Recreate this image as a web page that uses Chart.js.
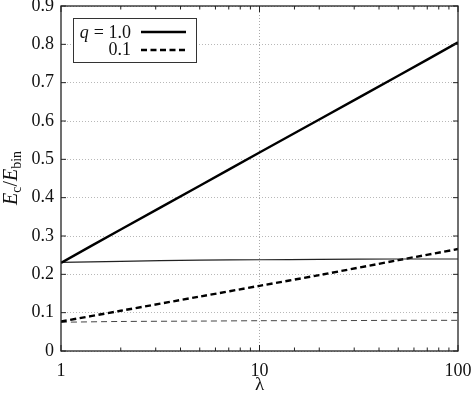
<!DOCTYPE html>
<html>
<head>
<meta charset="utf-8">
<script src="https://cdn.jsdelivr.net/npm/chart.js@4/dist/chart.umd.min.js"></script>
<style>
  html, body { margin: 0; padding: 0; background: #fff; }
  #wrap { width: 474px; height: 402px; }
</style>
</head>
<body>
<div id="wrap"><canvas id="chart" width="474" height="402"></canvas></div>
<script>
// lambda values (log axis)
const lambdas = [1, 2, 5, 10, 20, 50, 100];

// q = 1.0
const q10Thick = [0.230, 0.317, 0.431, 0.518, 0.604, 0.718, 0.805];
const q10Thin  = [0.231, 0.234, 0.237, 0.238, 0.239, 0.240, 0.240];
// q = 0.1
const q01Thick = [0.077, 0.105, 0.142, 0.170, 0.198, 0.237, 0.266];
const q01Thin  = [0.075, 0.077, 0.078, 0.079, 0.079, 0.080, 0.080];

const xLabels = [1, 10, 100];
const legendLabels = ['1.0', '0.1'];

const FONT = '"Liberation Serif", serif';

const toPts = ys => lambdas.map((x, i) => ({ x: x, y: ys[i] }));

// frame, inward ticks, legend box and y title
const decor = {
    id: 'decor',
    afterDraw(chart) {
        const ctx = chart.ctx;
        const a = chart.chartArea;
        const xs = chart.scales.x, ys = chart.scales.y;
        ctx.save();
        ctx.strokeStyle = '#222';
        ctx.lineWidth = 1.3;
        ctx.strokeRect(a.left, a.top, a.right - a.left, a.bottom - a.top);

        // x ticks, bottom and top
        ctx.lineWidth = 1;
        xs.ticks.forEach(t => {
            const px = xs.getPixelForValue(t.value);
            const major = xLabels.includes(t.value);
            const len = major ? 6 : 3.5;
            ctx.beginPath();
            ctx.moveTo(px, a.bottom); ctx.lineTo(px, a.bottom - len);
            ctx.moveTo(px, a.top); ctx.lineTo(px, a.top + len);
            ctx.stroke();
        });
        // y ticks, left and right
        ys.ticks.forEach(t => {
            const py = ys.getPixelForValue(t.value);
            ctx.beginPath();
            ctx.moveTo(a.left, py); ctx.lineTo(a.left + 5, py);
            ctx.moveTo(a.right, py); ctx.lineTo(a.right - 5, py);
            ctx.stroke();
        });

        // legend
        ctx.fillStyle = '#fff';
        ctx.fillRect(73, 18, 123, 44);
        ctx.strokeStyle = '#333';
        ctx.lineWidth = 1;
        ctx.strokeRect(73.5, 18.5, 123, 44);
        ctx.fillStyle = '#111';
        ctx.textBaseline = 'middle';
        ctx.textAlign = 'right';
        ctx.font = '18px ' + FONT;
        const row1 = '= ' + legendLabels[0];
        ctx.fillText(row1, 131, 33);
        const w = ctx.measureText(row1).width;
        ctx.font = 'italic 18px ' + FONT;
        ctx.fillText('q', 131 - w - 5, 33);
        ctx.font = '18px ' + FONT;
        ctx.fillText(legendLabels[1], 131, 50);
        ctx.strokeStyle = '#000';
        ctx.lineWidth = 2.4;
        ctx.beginPath(); ctx.moveTo(141, 32); ctx.lineTo(186, 32); ctx.stroke();
        ctx.setLineDash([6, 3.5]);
        ctx.beginPath(); ctx.moveTo(141, 50); ctx.lineTo(186, 50); ctx.stroke();
        ctx.setLineDash([]);

        // y title E_c / E_bin
        ctx.translate(17, 178);
        ctx.rotate(-Math.PI / 2);
        ctx.textAlign = 'left';
        ctx.textBaseline = 'alphabetic';
        const parts = [
            ['italic 20px ', 'E', 0],
            ['14px ', 'c', 4],
            ['20px ', '/', 0],
            ['italic 20px ', 'E', 0],
            ['14px ', 'bin', 4]
        ];
        let total = 0;
        parts.forEach(p => { ctx.font = p[0] + FONT; total += ctx.measureText(p[1]).width; });
        let cx = -total / 2;
        parts.forEach(p => {
            ctx.font = p[0] + FONT;
            ctx.fillText(p[1], cx, p[2]);
            cx += ctx.measureText(p[1]).width;
        });
        ctx.restore();
    }
};

new Chart(document.getElementById('chart'), {
    type: 'line',
    data: {
        datasets: [
            { data: toPts(q10Thick), borderColor: '#000', borderWidth: 2.4 },
            { data: toPts(q10Thin), borderColor: '#222', borderWidth: 1.2 },
            { data: toPts(q01Thick), borderColor: '#000', borderWidth: 2.4, borderDash: [6, 3.5] },
            { data: toPts(q01Thin), borderColor: '#444', borderWidth: 1, borderDash: [6, 4] }
        ]
    },
    options: {
        responsive: false,
        animation: false,
        layout: { padding: { top: 6, right: 16, left: 0, bottom: 0 } },
        elements: { point: { radius: 0 }, line: { tension: 0.3, fill: false } },
        plugins: { legend: { display: false }, tooltip: { enabled: false } },
        scales: {
            x: {
                type: 'logarithmic',
                min: 1,
                max: 100,
                afterFit: s => { s.height = 51; s.paddingLeft = 0; s.paddingRight = 0; },
                border: { display: false, dash: [1, 2] },
                grid: {
                    drawTicks: false,
                    color: c => (c.tick && c.tick.value === 10) ? '#aaa' : 'transparent'
                },
                ticks: {
                    autoSkip: false,
                    maxRotation: 0,
                    padding: 9,
                    color: '#111',
                    font: { family: FONT, size: 18 },
                    callback: v => xLabels.includes(v) ? String(v) : ''
                },
                title: {
                    display: true,
                    text: 'λ',
                    color: '#111',
                    padding: { top: 0, bottom: 6 },
                    font: { family: FONT, size: 19 }
                }
            },
            y: {
                min: 0,
                max: 0.9,
                afterFit: s => { s.width = 61; s.paddingTop = 0; s.paddingBottom = 0; },
                border: { display: false, dash: [1, 2] },
                grid: { drawTicks: false, color: '#b8b8b8' },
                ticks: {
                    stepSize: 0.1,
                    padding: 7,
                    color: '#111',
                    font: { family: FONT, size: 18 },
                    callback: v => v === 0 ? '0' : v.toFixed(1)
                }
            }
        }
    },
    plugins: [decor]
});
</script>
</body>
</html>
